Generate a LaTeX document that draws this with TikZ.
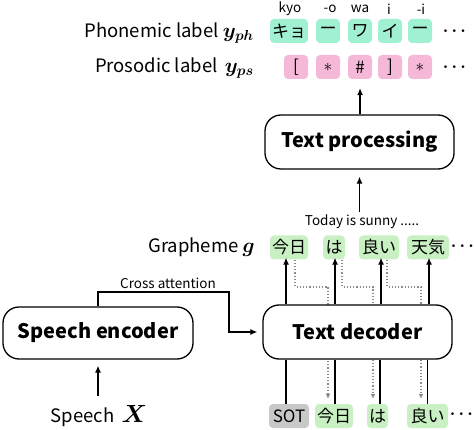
\documentclass[tikz,border=0pt]{standalone}
\usepackage{amsmath,bm}
\usepackage{fontspec}
\setmainfont{Noto Sans CJK JP}
\usetikzlibrary{arrows.meta}
\definecolor{phc}{HTML}{A0F0D2}
\definecolor{psc}{HTML}{F5B8D6}
\definecolor{grc}{HTML}{C8F0C2}
\definecolor{sotc}{HTML}{C8C8C8}
\definecolor{dotc}{HTML}{8A8A8A}
\newcommand{\bigmath}[1]{{\fontsize{22}{22}\selectfont$#1$}}
\begin{document}
\begin{tikzpicture}[x=1pt,y=-1pt,
  bigbox/.style={draw, fill=white, line width=1.3pt, rounded corners=16pt, minimum width=189pt, minimum height=54pt, inner sep=0pt, font=\fontsize{20}{22}\selectfont\bfseries},
  tok/.style={rounded corners=4pt, minimum height=24pt, inner sep=0pt, font=\fontsize{17}{18}\selectfont},
  ph/.style={tok, fill=phc},
  ps/.style={tok, fill=psc, minimum width=24pt},
  gr/.style={tok, fill=grc},
  sot/.style={tok, fill=sotc},
  lab/.style={anchor=east, inner sep=0pt, font=\fontsize{18.5}{20}\selectfont},
  small/.style={inner sep=0pt, font=\fontsize{13.5}{14}\selectfont},
  dotsn/.style={inner sep=0pt, font=\fontsize{17}{18}\selectfont},
  arr/.style={-{Latex[length=7pt,width=6pt]}, line width=1.2pt},
  ln/.style={line width=1.2pt},
  dotarr/.style={dotc, dotted, line width=1.2pt, -{Latex[length=5pt,width=5pt]}}
]
\useasboundingbox (0,0) rectangle (474,430);

% phonemic row
\node[ph, minimum width=38pt] (p1) at (289,31) {キョ};
\node[ph, minimum width=24pt] (p2) at (328,31) {ー};
\node[ph, minimum width=24pt] (p3) at (360,31) {ワ};
\node[ph, minimum width=24pt] (p4) at (390,31) {イ};
\node[ph, minimum width=24pt] (p5) at (420,31) {ー};
\node[dotsn] (pd) at (456,31) {$\boldsymbol{\cdots}$};
\node[small] (r1) at (290,9) {kyo};
\node[small] (r2) at (330,9) {-o};
\node[small] (r3) at (360,9) {wa};
\node[small] (r4) at (389,9) {i};
\node[small] (r5) at (421,9) {-i};
\node[lab] (phl) at (254,33) {Phonemic label \bigmath{\boldsymbol{y}_{\boldsymbol{ph}}}};

% prosodic row
\node[ps] (s1) at (296,67) {[};
\node[ps] (s2) at (328,67) {$\ast$};
\node[ps] (s3) at (360,67) {\#};
\node[ps] (s4) at (390,67) {]};
\node[ps] (s5) at (420,67) {$\ast$};
\node[dotsn] (sd) at (456,67) {$\boldsymbol{\cdots}$};
\node[lab] (psl) at (254,68) {Prosodic label \,\bigmath{\boldsymbol{y}_{\boldsymbol{ps}}}};

% text processing
\node[bigbox] (tp) at (359.5,142) {Text processing};
\draw[arr, shorten >=9pt] (tp.north -| s3) -- (s3.south);
\node[small] (today) at (362,222) {Today is sunny .....};
\draw[arr, shorten <=3pt, shorten >=7pt] (today.north -| tp.south) -- (tp.south);

% grapheme row
\node[gr, minimum width=38pt] (g1) at (289,247.5) {今日};
\node[gr, minimum width=22pt] (g2) at (334,247.5) {は};
\node[gr, minimum width=40pt] (g3) at (379,247.5) {良い};
\node[gr, minimum width=42pt] (g4) at (428,247.5) {天気};
\node[dotsn] (gd) at (464,246) {$\boldsymbol{\cdots}$};
\node[lab] (grl) at (255,247) {Grapheme \bigmath{\boldsymbol{g}}};

% bottom row
\node[sot, minimum width=40pt] (b1) at (289,416) {SOT};
\node[gr, minimum width=38pt] (b2) at (334,416) {今日};
\node[gr, minimum width=21pt] (b3) at (377.5,416) {は};
\node[gr, minimum width=41pt] (b4) at (427.5,416) {良い};
\node[dotsn] (bd) at (463,414) {$\boldsymbol{\cdots}$};

% dotted feedback (behind the decoder)
\coordinate (k1) at (295,287);
\coordinate (k2) at (342,287);
\coordinate (k3) at (387,287);
\coordinate (e1) at ([xshift=-6pt]b2.north);
\coordinate (e2) at ([xshift=-4.5pt]b3.north);
\coordinate (e3) at ([xshift=-6.5pt]b4.north);
\draw[dotarr, shorten >=5pt] ([xshift=6pt]g1.south) -- (k1) -- (k1 -| e1) -- (e1);
\draw[dotarr, shorten >=5pt] ([xshift=8pt]g2.south) -- (k2) -- (k2 -| e2) -- (e2);
\draw[dotarr, shorten >=5pt] ([xshift=8pt]g3.south) -- (k3) -- (k3 -| e3) -- (e3);

% decoder and encoder
\node[bigbox] (dec) at (357.5,332) {Text decoder};
\node[bigbox, minimum width=190pt, minimum height=52pt] (enc) at (98,333) {Speech encoder};

% decoder -> grapheme arrows
\draw[arr, shorten >=-2pt] ([xshift=-3pt]dec.north -| g1) -- ([xshift=-3pt]g1.south);
\draw[arr, shorten >=-2pt] ([xshift=1pt]dec.north -| g2) -- ([xshift=1pt]g2.south);
\draw[arr, shorten >=-2pt] ([xshift=2pt]dec.north -| g3) -- ([xshift=2pt]g3.south);
\draw[arr, shorten >=-2pt] ([xshift=1pt]dec.north -| g4) -- ([xshift=1pt]g4.south);

% bottom tokens -> decoder lines
\draw[ln] ([xshift=-3pt]b1.north) -- ([xshift=-3pt]b1.north |- dec.south);
\draw[ln] ([xshift=1pt]b2.north) -- ([xshift=1pt]b2.north |- dec.south);
\draw[ln] ([xshift=2.5pt]b3.north) -- ([xshift=2.5pt]b3.north |- dec.south);
\draw[ln] ([xshift=0pt]b4.north) -- ([xshift=0pt]b4.north |- dec.south);

% cross attention
\coordinate (ca1) at (98,292);
\coordinate (ca2) at (229,292);
\draw[arr, shorten >=5pt] (enc.north) -- (ca1) -- (ca2) -- (ca2 |- dec.west) -- (dec.west);
\node[small] (cat) at (168,283) {Cross attention};

% speech input
\node[lab, anchor=center] (sp) at (99,416) {Speech \,{\fontsize{27}{27}\selectfont$\boldsymbol{X}$}};
\coordinate (spt) at (98,396);
\draw[arr, shorten >=6pt] (spt) -- (enc.south);
\end{tikzpicture}
\end{document}
